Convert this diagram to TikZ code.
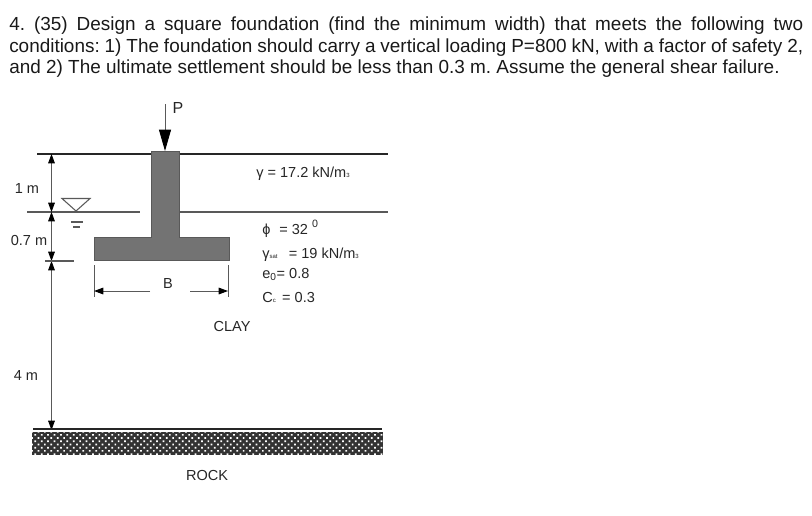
\documentclass[tikz,border=0pt]{standalone}
\usepackage{fontspec}
\setmainfont{Liberation Sans}
\usetikzlibrary{arrows.meta, patterns.meta}
\definecolor{concrete}{gray}{0.45}
\definecolor{inkgray}{gray}{0.35}
\tikzstyle{label} = [inner sep=0pt, font=\fontsize{10.9}{12}\selectfont, text=black!85]
\tikzstyle{prop} = [label, anchor=base west]
\tikzstyle{ground} = [draw=black!85, line width=1.4pt]
\tikzstyle{water} = [draw=inkgray, line width=0.8pt]
\tikzstyle{dim} = [draw=inkgray, line width=0.7pt]
\tikzstyle{dimarrow} = [dim, {Triangle[length=7pt,width=5pt,black]}-{Triangle[length=7pt,width=5pt,black]}]
\tikzstyle{footing} = [fill=concrete, draw=inkgray, line width=0.7pt]
\newcommand{\tinysub}[1]{{\fontsize{4.5}{5}\selectfont #1}}
\newcommand{\smallsup}[1]{\raisebox{5pt}{\fontsize{8}{9}\selectfont #1}}

\begin{document}
\begin{tikzpicture}[x=0.75pt, y=-0.75pt]
    \useasboundingbox (0,0) rectangle (812,515);
    % problem statement
    \node[anchor=north west, inner sep=0pt, text width=595.5pt, align=justify,
      font=\fontsize{14.2}{15.9}\selectfont\frenchspacing, text=black!90] (statement) at (9,17)
      {4. (35) Design a square foundation (find the minimum width) that meets the following two\linebreak
       conditions: 1) The foundation should carry a vertical loading P=800 kN, with a factor of safety 2,\linebreak
       and 2) The ultimate settlement should be less than 0.3 m. Assume the general shear failure.};

    % ground and water table
    \draw[ground] (37,154) -- (388,154);
    \draw[water] (27,212) -- (140,212);
    \draw[water] (179,212) -- (388,212);
    \draw[water] (62,198.5) -- (90,198.5) -- (76,211) -- cycle;
    \draw[water] (71,222) -- (83,222);
    \draw[water] (73,227) -- (80,227);

    % foundation
    \draw[footing] (151,151) -- (179,151) -- (179,237) -- (229,237) -- (229,260)
      -- (94,260) -- (94,237) -- (151,237) -- cycle;
    \coordinate (ptop) at (165,104);
    \coordinate (phead) at (165,151);
    \draw[dim, -{Triangle[length=16pt,width=9pt,black]}] (ptop) -- (phead);
    \node[label, font=\fontsize{12}{13}\selectfont] (pload) at (178,108) {P};

    % depths
    \coordinate (d0) at (51.5,154);
    \coordinate (d1) at (51.5,212);
    \coordinate (d2) at (51.5,261);
    \coordinate (d3) at (51.5,430);
    \draw[dimarrow] (d0) -- (d1);
    \draw[dimarrow] (d1) -- (d2);
    \draw[dimarrow] (d2) -- (d3);
    \draw[water] (45,261) -- (74,261);
    \node[label] (h1) at (27,188) {1 m};
    \node[label] (h2) at (29,240) {0.7 m};
    \node[label] (h3) at (26,375) {4 m};

    % width
    \draw[dim] (94,265) -- (94,297);
    \draw[dim] (228,265) -- (228,297);
    \node[label] (width) at (168,283) {B};
    \coordinate (bl) at (94,291);
    \coordinate (br) at (228,291);
    \draw[dim, -{Triangle[length=7pt,width=5pt,black]}] (150,291) -- (bl);
    \draw[dim, -{Triangle[length=7pt,width=5pt,black]}] (190,291) -- (br);

    % soil data
    \node[prop] (gamma) at (256,177) {γ = 17.2 kN/m\tinysub{3}};
    \node[prop] (phi) at (262,234) {ϕ\,\, = 32 \smallsup{0}};
    \node[prop] (gsat) at (262,258) {γ\tinysub{sat}\,\,\, = 19 kN/m\tinysub{3}};
    \node[prop] (e0) at (262,278) {e\textsubscript{0}= 0.8};
    \node[prop] (cc) at (262,302) {C\tinysub{c}\, = 0.3};
    \node[label] (clay) at (232,326) {CLAY};

    % rock
    \draw[ground, line width=1pt] (33,429) -- (382,429);
    \fill[black!80] (32,432) rectangle (383,455);
    \fill[pattern={Dots[radius=0.9pt, distance=3.4pt, angle=45]}, pattern color=white]
      (32,432) rectangle (383,455);
    \node[label] (rock) at (207,475) {ROCK};
  \end{tikzpicture}
\end{document}
